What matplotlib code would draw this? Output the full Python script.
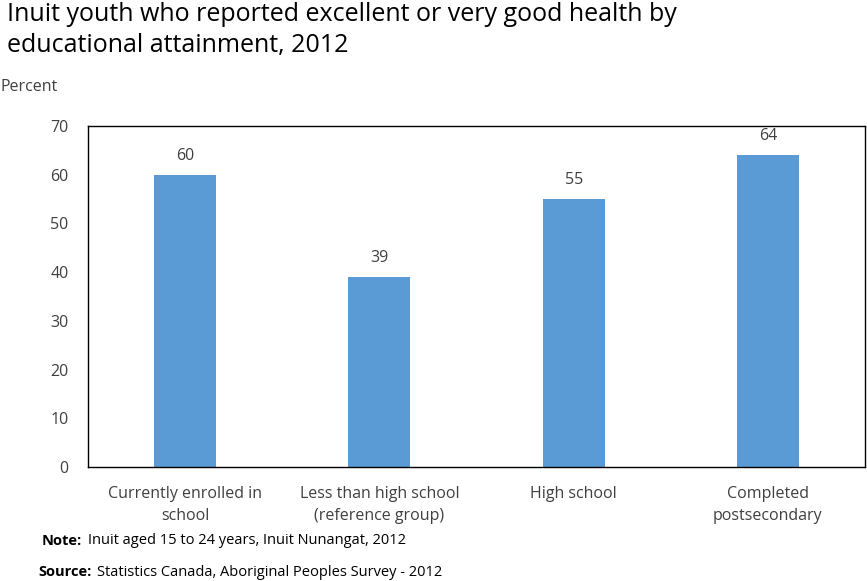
import matplotlib
matplotlib.use("Agg")
import matplotlib.pyplot as plt

categories = ["Currently enrolled in\nschool", "Less than high school\n(reference group)", "High school", "Completed\npostsecondary"]
values = [60, 39, 55, 64]

plt.rcParams['font.family'] = ['Open Sans', 'DejaVu Sans']
fig = plt.figure(figsize=(8.67, 5.81), dpi=100)
ax = fig.add_axes([88/867, 1-467/581, (865-88)/867, (467-126)/581])
x = range(len(categories))
ax.bar(x, values, width=0.32, color="#5B9BD5")
for xi, v in zip(x, values):
    ax.text(xi, v + 2.3, str(v), ha="center", va="bottom", fontsize=11.5, color="#404040")
ax.set_xlim(-0.5, 3.5)
ax.set_ylim(0, 70)
ax.set_yticks(range(0, 71, 10))
ax.set_xticks(list(x))
ax.set_xticklabels(categories, fontsize=11.5, color="#404040", linespacing=1.45)
ax.tick_params(axis="y", labelsize=11.5, labelcolor="#404040", length=0, pad=14)
ax.tick_params(axis="x", length=0, pad=14)
for s in ax.spines.values():
    s.set_color("black")
    s.set_linewidth(1)
fig.text(7/867, 1-30/581, "Inuit youth who reported excellent or very good health by\neducational attainment, 2012",
         fontsize=18, va="center", ha="left", color="black", linespacing=1.3)
fig.text(0/867, 1-87/581, "Percent", fontsize=11.5, va="center", ha="left", color="#404040")
fig.text(42/867, 1-541/581, "Note:", fontsize=10.5, va="center", fontweight="bold")
fig.text(88/867, 1-541/581, "Inuit aged 15 to 24 years, Inuit Nunangat, 2012", fontsize=10.5, va="center")
fig.text(38/867, 1-572/581, "Source:", fontsize=10.5, va="center", fontweight="bold")
fig.text(97/867, 1-572/581, "Statistics Canada, Aboriginal Peoples Survey - 2012", fontsize=10.5, va="center")
fig.savefig("out.png", dpi=100)
